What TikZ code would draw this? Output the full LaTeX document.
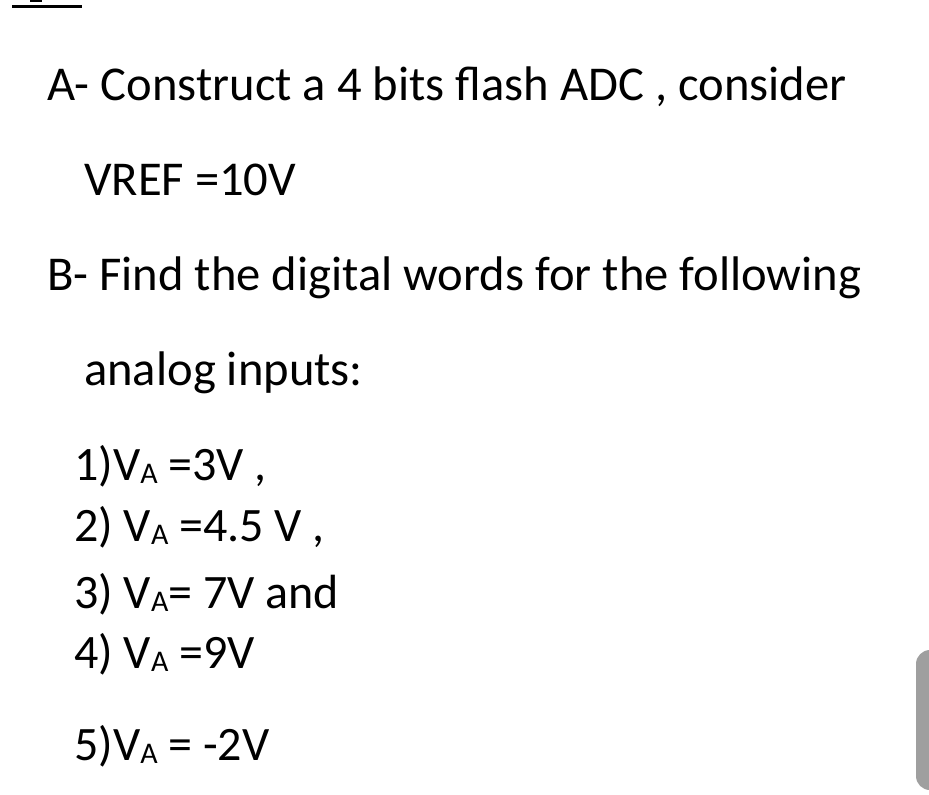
\documentclass[tikz,border=0pt]{standalone}
\usepackage{fontspec}
\setmainfont{Carlito}
\begin{document}
\begin{tikzpicture}[x=1pt,y=-1pt,
  txt/.style={anchor=base west,inner sep=0pt,font=\fontsize{48.6}{50}\selectfont},
  itm/.style={anchor=base west,inner sep=0pt,font=\fontsize{48}{50}\selectfont}]
\useasboundingbox (0,0) rectangle (929,795);
\fill[white] (0,0) rectangle (929,795);
\newcommand{\sa}{\raisebox{-3pt}{\fontsize{30}{30}\selectfont A}}
\draw[line width=3pt] (12,6) -- (82,6);
\fill (30,0) rectangle (42,2);
\fill[gray!75,rounded corners=14pt] (916,650) rectangle (945,790);
\node[txt] (a) at (47,100) {A- Construct a 4 bits flash ADC , consider};
\node[txt] (v) at (84,195) {VREF =10V};
\node[txt] (b) at (47,290) {B- Find the digital words for the following};
\node[txt] (an) at (84,385) {analog inputs:};
\node[itm] (i1) at (74,480) {1)V\sa\ =3V ,};
\node[itm] (i2) at (74,541) {2) V\sa\ =4.5 V ,};
\node[itm] (i3) at (74,608) {3) V\sa= 7V and};
\node[itm] (i4) at (74,668) {4) V\sa\ =9V};
\node[itm] (i5) at (74,760) {5)V\sa\ = -2V};
\end{tikzpicture}
\end{document}
